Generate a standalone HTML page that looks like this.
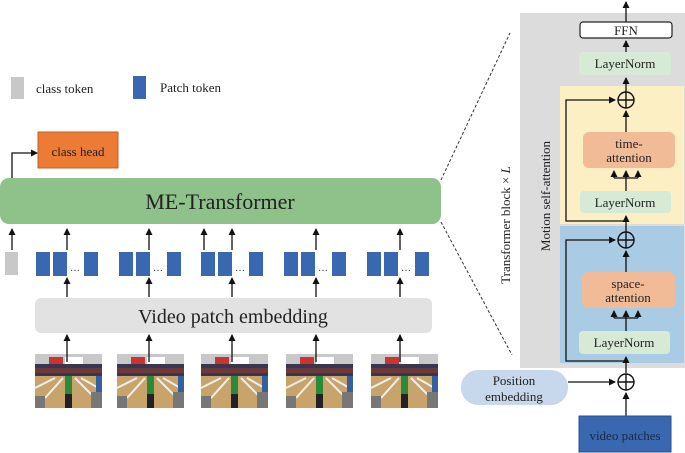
<!DOCTYPE html>
<html><head><meta charset="utf-8"><style>
body{margin:0;background:#fff}
svg{display:block;font-family:"Liberation Serif",serif}
</style></head><body>
<svg width="685" height="453" viewBox="0 0 685 453" xmlns="http://www.w3.org/2000/svg">
<defs>
<marker id="a" markerWidth="8" markerHeight="8" refX="6" refY="4" orient="auto" markerUnits="userSpaceOnUse"><path d="M0,0.5 L7,4 L0,7.5z" fill="#111"/></marker>
<g id="img">
<rect width="67" height="54" fill="#c9a46a"/>
<rect width="67" height="10" fill="#c8c8c8"/>
<rect x="14" y="3" width="14" height="7" fill="#c33"/>
<rect x="30" y="3" width="18" height="7" fill="#fff"/>
<rect y="10" width="67" height="12" fill="#3a3550"/>
<rect y="14" width="67" height="5" fill="#6a3a3a"/>
<path d="M0,34 L20,24 M10,44 L28,24 M40,24 L60,44 M46,24 L67,36" stroke="#eee" stroke-width="2"/>
<rect x="0" y="42" width="10" height="12" fill="#777"/>
<rect x="56" y="38" width="11" height="16" fill="#777"/>
<rect x="30" y="22" width="7" height="18" fill="#2a8a3a"/>
<rect x="30" y="40" width="7" height="14" fill="#222"/>
<rect x="61" y="22" width="6" height="16" fill="#3560a0"/>
</g>
</defs>

<!-- legend -->
<rect x="11" y="77" width="13" height="22" fill="#c8c8c8"/>
<text x="36" y="93" font-size="13" fill="#222">class token</text>
<rect x="133" y="76" width="13" height="23" fill="#3a68b0"/>
<text x="160" y="92" font-size="13" fill="#222">Patch token</text>

<!-- class head -->
<rect x="38" y="132" width="80" height="36" fill="#ec7b36" stroke="#c0622a"/>
<text x="78" y="156" font-size="13" text-anchor="middle" fill="#222">class head</text>
<path d="M12,178 L12,153 L37,153" fill="none" stroke="#111" stroke-width="1.3" marker-end="url(#a)"/>

<!-- ME transformer -->
<rect x="0" y="178" width="441" height="46" rx="9" fill="#8fc18b"/>
<text x="220" y="209" font-size="22" text-anchor="middle" fill="#222">ME-Transformer</text>

<!-- tokens -->
<rect x="5" y="252" width="13" height="23" fill="#c8c8c8"/>
<path d="M12,250 L12,229" stroke="#111" stroke-width="1.3" marker-end="url(#a)"/>
<g fill="#3a68b0">
<rect x="36" y="252" width="14" height="24"/><rect x="53" y="252" width="14" height="24"/><rect x="84" y="252" width="14" height="24"/>
<rect x="119" y="252" width="14" height="24"/><rect x="136" y="252" width="14" height="24"/><rect x="167" y="252" width="14" height="24"/>
<rect x="201" y="252" width="14" height="24"/><rect x="218" y="252" width="14" height="24"/><rect x="249" y="252" width="14" height="24"/>
<rect x="284" y="252" width="14" height="24"/><rect x="301" y="252" width="14" height="24"/><rect x="332" y="252" width="14" height="24"/>
<rect x="367" y="252" width="14" height="24"/><rect x="384" y="252" width="14" height="24"/><rect x="415" y="252" width="14" height="24"/>
</g>
<g font-size="10" fill="#333">
<text x="70" y="271">…</text><text x="153" y="271">…</text><text x="235" y="271">…</text><text x="318" y="271">…</text><text x="401" y="271">…</text>
</g>
<g stroke="#111" stroke-width="1.3" marker-end="url(#a)">
<path d="M67,250 L67,229"/><path d="M149,250 L149,229"/><path d="M204,250 L204,229"/><path d="M232,250 L232,229"/><path d="M316,250 L316,229"/><path d="M400,250 L400,229"/>
<path d="M67,297 L67,278"/><path d="M149,297 L149,278"/><path d="M232,297 L232,278"/><path d="M316,297 L316,278"/><path d="M400,297 L400,278"/>
<path d="M67,360 L67,335"/><path d="M149,360 L149,335"/><path d="M232,360 L232,335"/><path d="M316,360 L316,335"/><path d="M400,360 L400,335"/>
</g>

<!-- video patch embedding -->
<rect x="35" y="298" width="397" height="35" rx="6" fill="#e2e2e2"/>
<text x="233" y="323" font-size="20" text-anchor="middle" fill="#222">Video patch embedding</text>

<!-- images -->
<use href="#img" x="35" y="354"/>
<use href="#img" x="117" y="354"/>
<use href="#img" x="201" y="354"/>
<use href="#img" x="286" y="354"/>
<use href="#img" x="371" y="354"/>
<g stroke="#111" stroke-width="1.3"><path d="M67,354 L67,362"/><path d="M149,354 L149,362"/><path d="M232,354 L232,362"/><path d="M316,354 L316,362"/><path d="M400,354 L400,362"/></g>

<!-- dashed -->
<path d="M441,180 L510,33 M441,222 L512,355" stroke="#333" stroke-dasharray="3,2" fill="none"/>

<!-- right panel -->
<rect x="520" y="13" width="165" height="355" fill="#dcdcdc"/>
<rect x="560" y="86" width="124" height="138" fill="#fcefc4"/>
<rect x="560" y="226" width="124" height="137" fill="#a9cbe4"/>

<path d="M626,22 L626,2" stroke="#111" stroke-width="1.3" marker-end="url(#a)"/>
<rect x="580" y="22" width="92" height="16" rx="3" fill="#fff" stroke="#222" stroke-width="1.2"/>
<text x="626" y="35" font-size="13" text-anchor="middle" fill="#222">FFN</text>
<path d="M626,52 L626,41" stroke="#111" stroke-width="1.3" marker-end="url(#a)"/>
<rect x="579" y="52" width="92" height="23" rx="4" fill="#d6ead6"/>
<text x="625" y="68" font-size="13" text-anchor="middle" fill="#222">LayerNorm</text>
<path d="M626,92 L626,78" stroke="#111" stroke-width="1.3" marker-end="url(#a)"/>

<g stroke="#111" stroke-width="1.4" fill="none">
<circle cx="626" cy="100" r="8"/><path d="M618,100 H634 M626,92 V108"/>
<circle cx="626" cy="240" r="8"/><path d="M618,240 H634 M626,232 V248"/>
<circle cx="626" cy="382" r="8"/><path d="M618,382 H634 M626,374 V390"/>
</g>
<path d="M626,132 L626,111" stroke="#111" stroke-width="1.3" marker-end="url(#a)"/>
<rect x="583" y="132" width="92" height="36" rx="6" fill="#f2bb98"/>
<text x="629" y="148" font-size="13" text-anchor="middle" fill="#222">time-</text>
<text x="629" y="162" font-size="13" text-anchor="middle" fill="#222">attention</text>
<g stroke="#111" stroke-width="1.3" fill="none">
<path d="M626,191 L626,178 M614,178 H638"/>
<path d="M614,178 L614,171" marker-end="url(#a)"/><path d="M626,178 L626,171" marker-end="url(#a)"/><path d="M638,178 L638,171" marker-end="url(#a)"/>
</g>
<rect x="580" y="191" width="91" height="22" rx="4" fill="#d6ead6"/>
<text x="625" y="207" font-size="13" text-anchor="middle" fill="#222">LayerNorm</text>
<path d="M626,232 L626,216" stroke="#111" stroke-width="1.3" marker-end="url(#a)"/>
<path d="M626,221 L566,221 L566,100 L615,100" stroke="#111" stroke-width="1.3" fill="none" marker-end="url(#a)"/>

<path d="M626,272 L626,251" stroke="#111" stroke-width="1.3" marker-end="url(#a)"/>
<rect x="582" y="272" width="93" height="36" rx="6" fill="#f2bb98"/>
<text x="628" y="288" font-size="13" text-anchor="middle" fill="#222">space-</text>
<text x="628" y="302" font-size="13" text-anchor="middle" fill="#222">attention</text>
<g stroke="#111" stroke-width="1.3" fill="none">
<path d="M626,331 L626,318 M614,318 H638"/>
<path d="M614,318 L614,311" marker-end="url(#a)"/><path d="M626,318 L626,311" marker-end="url(#a)"/><path d="M638,318 L638,311" marker-end="url(#a)"/>
</g>
<rect x="579" y="331" width="91" height="23" rx="4" fill="#d6ead6"/>
<text x="624" y="347" font-size="13" text-anchor="middle" fill="#222">LayerNorm</text>
<path d="M626,373 L626,357" stroke="#111" stroke-width="1.3" marker-end="url(#a)"/>
<path d="M626,361 L566,361 L566,240 L615,240" stroke="#111" stroke-width="1.3" fill="none" marker-end="url(#a)"/>

<rect x="461" y="370" width="107" height="35" rx="17" fill="#c8d8ec"/>
<text x="514" y="385" font-size="13" text-anchor="middle" fill="#222">Position</text>
<text x="514" y="401" font-size="13" text-anchor="middle" fill="#222">embedding</text>
<path d="M568,382 L615,382" stroke="#111" stroke-width="1.3" marker-end="url(#a)"/>
<path d="M626,416 L626,393" stroke="#111" stroke-width="1.3" marker-end="url(#a)"/>
<rect x="579" y="416" width="92" height="36" fill="#3a68b0" stroke="#2a4f8a"/>
<text x="625" y="440" font-size="13" text-anchor="middle" fill="#1a2a44">video patches</text>

<text transform="translate(510,225) rotate(-90)" font-size="13" text-anchor="middle" fill="#222">Transformer block × <tspan font-style="italic">L</tspan></text>
<text transform="translate(550,196) rotate(-90)" font-size="13" text-anchor="middle" fill="#222">Motion self-attention</text>
</svg>
</body></html>
